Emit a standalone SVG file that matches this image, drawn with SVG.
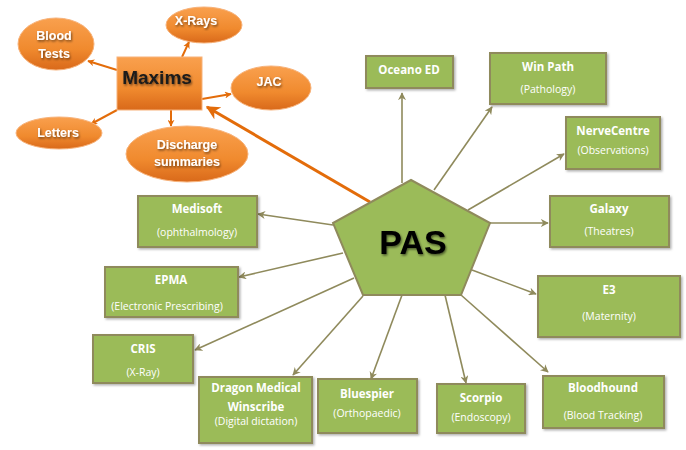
<svg xmlns="http://www.w3.org/2000/svg" width="686" height="450" viewBox="0 0 686 450">
<defs>
<linearGradient id="og" x1="0" y1="0" x2="0" y2="1">
<stop offset="0" stop-color="#F9A04E"/>
<stop offset="0.6" stop-color="#F08A2E"/>
<stop offset="1" stop-color="#D9691A"/>
</linearGradient>
<filter id="sh" x="-10%" y="-10%" width="130%" height="130%">
<feDropShadow dx="1.5" dy="1.5" stdDeviation="1" flood-color="#000" flood-opacity="0.3"/>
</filter>
<filter id="tsh" x="-20%" y="-20%" width="140%" height="140%">
<feDropShadow dx="1" dy="1.5" stdDeviation="1" flood-color="#000" flood-opacity="0.55"/>
</filter>
<marker id="ga" viewBox="0 0 10 10" refX="9" refY="5" markerWidth="8" markerHeight="8" markerUnits="userSpaceOnUse" orient="auto">
<path d="M0,0 L10,5 L0,10 L3,5 z" fill="#8F8A5C"/>
</marker>
<marker id="oa" viewBox="0 0 10 10" refX="9" refY="5" markerWidth="7" markerHeight="7" markerUnits="userSpaceOnUse" orient="auto">
<path d="M0,0 L10,5 L0,10 L3,5 z" fill="#E36C0A"/>
</marker>
<marker id="ob" viewBox="0 0 10 10" refX="9" refY="5" markerWidth="14" markerHeight="14" markerUnits="userSpaceOnUse" orient="auto">
<path d="M0,0 L10,5 L0,10 L3,5 z" fill="#E36C0A"/>
</marker>
</defs>
<style>
.box{fill:#9BBB59;stroke:#8F8A5C;stroke-width:2;filter:url(#sh)}
.ell{fill:url(#og);stroke:#F7B27A;stroke-width:1}
.t{font-family:"Open Sans","Noto Sans",sans-serif;font-weight:bold;font-size:11.5px;fill:#fff;text-anchor:middle}
.s{font-family:"Open Sans","Noto Sans",sans-serif;font-size:10.5px;fill:#fff;text-anchor:middle}
.ot{font-family:"Liberation Sans",Arial,sans-serif;font-weight:bold;font-size:12.5px;fill:#fff;text-anchor:middle;filter:url(#tsh)}
.gc{stroke:#8F8A5C;stroke-width:1.6;fill:none;marker-end:url(#ga)}
.oc{stroke:#E36C0A;stroke-width:2;fill:none;marker-end:url(#oa)}
</style>
<rect width="686" height="450" fill="#fff"/>

<g id="connectors">
<line class="oc" x1="117" y1="70" x2="88" y2="61"/>
<line class="oc" x1="182" y1="57" x2="189" y2="42"/>
<line class="oc" x1="202" y1="99" x2="231" y2="94"/>
<line class="oc" x1="117" y1="110" x2="91" y2="124"/>
<line class="oc" x1="171" y1="110" x2="171" y2="126"/>
<line x1="370" y1="202" x2="207" y2="107" stroke="#E36C0A" stroke-width="3" marker-end="url(#ob)"/>
<line class="gc" x1="402" y1="183" x2="402" y2="93"/>
<line class="gc" x1="434" y1="190" x2="492" y2="107"/>
<line class="gc" x1="468" y1="210" x2="564" y2="154"/>
<line class="gc" x1="490" y1="223" x2="548" y2="223"/>
<line class="gc" x1="472" y1="270" x2="536" y2="294"/>
<line class="gc" x1="461" y1="295" x2="548" y2="372"/>
<line class="gc" x1="445" y1="295" x2="466" y2="383"/>
<line class="gc" x1="402" y1="295" x2="371" y2="379"/>
<line class="gc" x1="363" y1="296" x2="293" y2="375"/>
<line class="gc" x1="354" y1="278" x2="195" y2="350"/>
<line class="gc" x1="343" y1="253" x2="239" y2="277"/>
<line class="gc" x1="333" y1="225" x2="258" y2="214"/>
</g>

<g id="maxims">
<rect x="117" y="57" width="85" height="53" fill="url(#og)" stroke="#F7B27A" stroke-width="1"/>
<text x="157" y="84" font-family="Liberation Sans,Arial,sans-serif" font-weight="bold" font-size="19" fill="#1a1a1a" text-anchor="middle" filter="url(#tsh)">Maxims</text>
</g>
<g id="bloodtests">
<ellipse class="ell" cx="56" cy="44" rx="38" ry="26"/>
<text class="ot" x="54" y="40">Blood</text>
<text class="ot" x="54" y="58">Tests</text>
</g>
<g id="xrays">
<ellipse class="ell" cx="204" cy="25" rx="38" ry="18"/>
<text class="ot" x="196" y="25">X-Rays</text>
</g>
<g id="jac">
<ellipse class="ell" cx="271" cy="88" rx="40" ry="22"/>
<text class="ot" x="269" y="86">JAC</text>
</g>
<g id="letters">
<ellipse class="ell" cx="59" cy="133" rx="43" ry="16"/>
<text class="ot" x="58" y="137">Letters</text>
</g>
<g id="discharge">
<ellipse class="ell" cx="187" cy="154" rx="61" ry="28"/>
<text class="ot" x="187" y="149">Discharge</text>
<text class="ot" x="187" y="166">summaries</text>
</g>

<g id="pas">
<polygon points="411,180 490,223 461,295 363,295 333,223" fill="#9BBB59" stroke="#8F8A5C" stroke-width="2"/>
<text x="413" y="254" font-family="Liberation Sans,Arial,sans-serif" font-weight="bold" font-size="34" fill="#000" text-anchor="middle" filter="url(#tsh)">PAS</text>
</g>

<g id="oceano">
<rect class="box" x="366" y="56" width="87" height="32"/>
<text class="t" x="409" y="74">Oceano ED</text>
</g>
<g id="winpath">
<rect class="box" x="490" y="53" width="116" height="51"/>
<text class="t" x="548" y="71">Win Path</text>
<text class="s" x="548" y="93">(Pathology)</text>
</g>
<g id="nervecentre">
<rect class="box" x="566" y="117" width="94" height="52"/>
<text class="t" x="613" y="135">NerveCentre</text>
<text class="s" x="613" y="154">(Observations)</text>
</g>
<g id="galaxy">
<rect class="box" x="550" y="196" width="119" height="51"/>
<text class="t" x="609" y="213">Galaxy</text>
<text class="s" x="609" y="235">(Theatres)</text>
</g>
<g id="e3">
<rect class="box" x="538" y="276" width="142" height="61"/>
<text class="t" x="609" y="294">E3</text>
<text class="s" x="609" y="320">(Maternity)</text>
</g>
<g id="bloodhound">
<rect class="box" x="543" y="376" width="121" height="52"/>
<text class="t" x="603" y="392">Bloodhound</text>
<text class="s" x="603" y="419">(Blood Tracking)</text>
</g>
<g id="scorpio">
<rect class="box" x="437" y="384" width="88" height="49"/>
<text class="t" x="481" y="402">Scorpio</text>
<text class="s" x="481" y="421">(Endoscopy)</text>
</g>
<g id="bluespier">
<rect class="box" x="318" y="379" width="99" height="54"/>
<text class="t" x="367" y="398">Bluespier</text>
<text class="s" x="367" y="417">(Orthopaedic)</text>
</g>
<g id="dragon">
<rect class="box" x="199" y="377" width="113" height="66"/>
<text class="t" x="256" y="392" font-size="12.5">Dragon Medical</text>
<text class="t" x="256" y="411">Winscribe</text>
<text class="s" x="256" y="425">(Digital dictation)</text>
</g>
<g id="cris">
<rect class="box" x="93" y="335" width="100" height="48"/>
<text class="t" x="143" y="353">CRIS</text>
<text class="s" x="143" y="376">(X-Ray)</text>
</g>
<g id="epma">
<rect class="box" x="105" y="267" width="133" height="50"/>
<text class="t" x="171" y="284">EPMA</text>
<text class="s" x="167" y="310">(Electronic Prescribing)</text>
</g>
<g id="medisoft">
<rect class="box" x="138" y="196" width="119" height="51"/>
<text class="t" x="197" y="213">Medisoft</text>
<text class="s" x="197" y="236">(ophthalmology)</text>
</g>
</svg>
